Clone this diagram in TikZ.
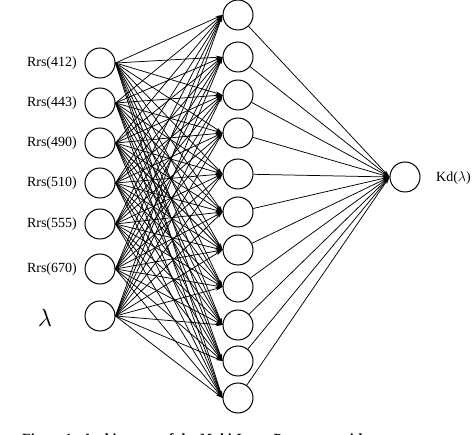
\documentclass[tikz,border=0pt]{standalone}
\usepackage{fontspec}
\setmainfont{Liberation Serif}
\usetikzlibrary{arrows.meta}
\begin{document}
\begin{tikzpicture}[x=1pt,y=-1pt,
  neuron/.style={circle,draw,line width=1pt,minimum size=30pt,inner sep=0pt},
  conn/.style={line width=0.75pt,-{Stealth[length=7pt,width=3.5pt]}},
  lbl/.style={font=\fontsize{14}{16}\selectfont,anchor=east,inner sep=0pt}]
\useasboundingbox (0,0) rectangle (474,435);
\clip (0,0) rectangle (474,435);
% input layer
\foreach \n/\y in {1/63,2/103,3/143,4/183,5/224,6/269,7/316}
  \node[neuron] (i\n) at (100,\y) {};
\node[lbl] (l1) at (77,63) {Rrs(412)};
\node[lbl] (l2) at (77,103) {Rrs(443)};
\node[lbl] (l3) at (77,143) {Rrs(490)};
\node[lbl] (l4) at (77,183) {Rrs(510)};
\node[lbl] (l5) at (77,224) {Rrs(555)};
\node[lbl] (l6) at (77,269) {Rrs(670)};
\node[font=\fontsize{26}{28}\selectfont,inner sep=0pt] (l7) at (45,318) {$\lambda$};
% hidden layer
\foreach \n/\y in {1/15,2/57,3/95,4/133,5/174,6/212,7/250,8/287,9/325,10/361,11/398}
  \node[neuron] (h\n) at (238,\y) {};
% output
\node[neuron] (o) at (405,177) {};
\node[font=\fontsize{14}{16}\selectfont,anchor=west,inner sep=0pt] (kd) at (436,178) {Kd($\lambda$)};
% connections
\foreach \a in {1,...,7}
  \foreach \b in {1,...,11}
    \draw[conn] (i\a.east) -- (h\b.west);
\foreach \b in {1,...,11}
  \draw[conn] (h\b) -- (o.west);
% caption (cut off by the frame)
\node[anchor=base west,inner sep=0pt,font=\bfseries\fontsize{14}{16}\selectfont] (cap) at (22,444) {Figure 1.\ \ Architecture of the \textit{Multi-Layer Perceptron} with};
\end{tikzpicture}
\end{document}
